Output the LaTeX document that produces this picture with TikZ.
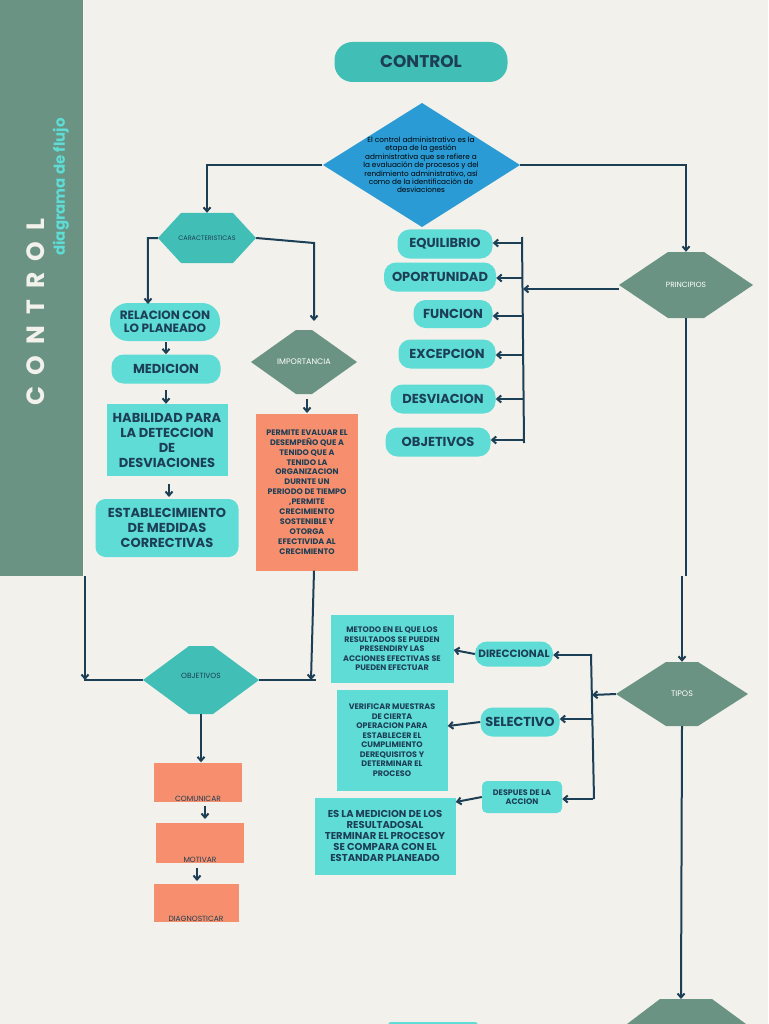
\documentclass[tikz,border=0pt]{standalone}
\usepackage{fontspec}
\setmainfont{Poppins}
\newfontfamily\pop{Poppins}
\newfontfamily\popsp[LetterSpace=45]{Poppins}
\usetikzlibrary{arrows.meta,calc}
\definecolor{bg}{HTML}{F2F1EC}
\definecolor{sage}{HTML}{6A9383}
\definecolor{teal}{HTML}{41BFB6}
\definecolor{cyan}{HTML}{5EDCD5}
\definecolor{blu}{HTML}{2B9BD6}
\definecolor{salmon}{HTML}{F78F6E}
\definecolor{navy}{HTML}{1D3F55}
\newcommand\hexa[9]{%
  \fill[#7] ({#2-#4},#3) -- ({#2-#6},{#3-#5}) -- ({#2+#6},{#3-#5}) -- ({#2+#4},#3) -- ({#2+#6},{#3+#5}) -- ({#2-#6},{#3+#5}) -- cycle;
  \node[inner sep=0pt, minimum width={2*#4}, minimum height={2*#5}, #8] (#1) at (#2,#3) {#9};}
\begin{document}
\begin{tikzpicture}[x=1pt,y=-1pt,
  arr/.style={draw=navy, line width=2pt, -{Straight Barb[length=4pt,width=7pt]}},
  ln/.style={draw=navy, line width=2pt},
  pill/.style={fill=cyan, rounded corners=12pt, inner sep=0pt, text=navy, font=\pop\bfseries\fontsize{13}{14}\selectfont, align=center},
  box/.style={fill=cyan, inner sep=2pt, text=navy, font=\pop\bfseries\fontsize{8}{9.5}\selectfont, align=center},
  sbox/.style={fill=salmon, inner sep=0pt, text=navy, align=center},
  small/.style={text=navy, font=\pop\fontsize{6.5}{7}\selectfont},
  wsmall/.style={text=white, font=\pop\fontsize{8}{9}\selectfont}]
\useasboundingbox (0,0) rectangle (768,1024);
\fill[bg] (0,0) rectangle (768,1024);
% sidebar
\fill[sage] (0,0) rectangle (83,576);
\node[rotate=90, text=bg, font=\popsp\bfseries\fontsize{25}{25}\selectfont] (ttl) at (36,312) {CONTROL};
\node[rotate=90, text=cyan, font=\pop\bfseries\fontsize{15}{15}\selectfont] (sub) at (61,187) {diagrama de flujo};
% top
\node[pill, fill=teal, minimum width=173pt, minimum height=40pt, rounded corners=18pt, font=\pop\bfseries\fontsize{17}{18}\selectfont] (ctrl) at (421,62) {CONTROL};
\fill[blu] (323,165) -- (422,103) -- (520,165) -- (422,227) -- cycle;
\node[minimum width=197pt, minimum height=124pt, inner sep=0pt, align=center, font=\pop\fontsize{7.3}{8.4}\selectfont] (main) at (421,165)
 {El control administrativo es la\\etapa de la gestión\\administrativa que se refiere a\\la evaluación de procesos y del\\rendimiento administrativo, así\\como de la identificación de\\desviaciones};
% left branch
\hexa{car}{207}{238}{49}{25}{26}{teal}{small}{CARACTERISTICAS}
\draw[arr] (main.west) -| (car.north);
\node[pill, minimum width=110pt, minimum height=38pt, rounded corners=18pt, font=\pop\bfseries\fontsize{12}{12.5}\selectfont] (rel) at (165,322) {RELACION CON\\LO PLANEADO};
\draw[arr] (car.west) -- ++(-10,0) -- (148,304);
\hexa{imp}{304}{362}{53}{32}{8}{sage}{wsmall}{IMPORTANCIA}
\draw[arr] (car.east) -- (314,243) -- (314,321);
\node[pill, minimum width=109pt, minimum height=29pt] (med) at (166,369) {MEDICION};
\draw[arr] (rel.south -| 166,0) ++(0,1) -- (med.north -| 166,0);
\node[box, minimum width=121pt, minimum height=72pt, font=\pop\bfseries\fontsize{13}{15}\selectfont] (hab) at (167,440) {HABILIDAD PARA\\LA DETECCION\\DE\\DESVIACIONES};
\draw[arr] (166,390) -- (hab.north -| 166,0);
\node[pill, minimum width=143pt, minimum height=58pt, rounded corners=10pt, font=\pop\bfseries\fontsize{13}{15}\selectfont] (est) at (167,528) {ESTABLECIMIENTO\\DE MEDIDAS\\CORRECTIVAS};
\draw[arr] (169,484) -- (169,497);
\draw[arr] (imp.south -| 307,0) ++(0,5) -- (307,413);
\node[sbox, minimum width=102pt, minimum height=157pt, font=\pop\bfseries\fontsize{8}{9.9}\selectfont] (per) at (307,492) {PERMITE EVALUAR EL\\DESEMPEÑO QUE A\\TENIDO QUE A\\TENIDO LA\\ORGANIZACION\\DURNTE UN\\PERIODO DE TIEMPO\\,PERMITE\\CRECIMIENTO\\SOSTENIBLE Y\\OTORGA\\EFECTIVIDA AL\\CRECIMIENTO};
% objetivos
\hexa{obj}{201}{680}{58}{34}{12}{teal}{small,font=\pop\fontsize{7.5}{8}\selectfont}{\raisebox{9pt}{OBJETIVOS}}
\coordinate (sb) at (85,576);
\draw[arr] (sb) -- (85,680);
\draw[ln] (84,680) -- (obj.west);
\draw[arr] (per.south -| 314,0) -- (311,680);
\draw[ln] (obj.east) -- (316,680);
\node[sbox, minimum width=88pt, minimum height=39pt] (com) at (198,782) {};
\node[small, font=\pop\fontsize{7.5}{8}\selectfont, anchor=south] (comt) at ($(com.south)+(0,3)$) {COMUNICAR};
\draw[arr] (obj.south) -- (com.north -| obj.south);
\node[sbox, minimum width=88pt, minimum height=40pt] (mot) at (200,843) {};
\node[small, font=\pop\fontsize{7.5}{8}\selectfont, anchor=south] (mott) at ($(mot.south)+(0,3)$) {MOTIVAR};
\draw[arr] (205,806) -- (205,819);
\node[sbox, minimum width=85pt, minimum height=38pt] (dia) at (196,903) {};
\node[small, font=\pop\fontsize{7.5}{8}\selectfont, anchor=south] (diat) at ($(dia.south)+(0,3)$) {DIAGNOSTICAR};
\draw[arr] (197,868) -- (197,881);
% principios
\hexa{pri}{686}{285}{67}{33}{18}{sage}{wsmall,font=\pop\fontsize{7.5}{8}\selectfont}{PRINCIPIOS}
\draw[arr] (main.east) -| (pri.north);
\node[pill, minimum width=95pt, minimum height=29pt] (p1) at (445,244) {EQUILIBRIO};
\node[pill, minimum width=112pt, minimum height=29pt] (p2) at (440,277) {OPORTUNIDAD};
\node[pill, minimum width=79pt, minimum height=28pt] (p3) at (453,314) {FUNCION};
\node[pill, minimum width=97pt, minimum height=29pt] (p4) at (447,354) {EXCEPCION};
\node[pill, minimum width=105pt, minimum height=29pt] (p5) at (443,399) {DESVIACION};
\node[pill, minimum width=105pt, minimum height=29pt] (p6) at (438,442) {OBJETIVOS};
\coordinate (bt) at (522,237);
\coordinate (bb) at (524,443);
\draw[ln] (bt) -- (bb);
\draw[arr] (pri.west |- 0,289) -- (523,289);
\foreach \p/\y in {p1/243,p2/278,p3/316,p4/355,p5/399,p6/440}
  \draw[arr] (523,\y) -- (\p.east |- 0,\y);
% tipos
\hexa{tip}{682}{694}{66}{32}{16}{sage}{wsmall,font=\pop\fontsize{8}{9}\selectfont}{TIPOS}
\draw[ln] (pri.south) -- (686,576);
\draw[arr] (682,576) -- (tip.north);
\coordinate (tt) at (591,654);
\coordinate (tb) at (594,799);
\draw[ln] (tt) -- (tb);
\draw[arr] (tip.west) -- (592,695);
\node[pill, minimum width=78pt, minimum height=25pt, font=\pop\bfseries\fontsize{10.5}{11}\selectfont] (t1) at (514,654) {DIRECCIONAL};
\node[pill, minimum width=79pt, minimum height=29pt] (t2) at (520,722) {SELECTIVO};
\node[pill, minimum width=80pt, minimum height=32pt, rounded corners=5pt, font=\pop\bfseries\fontsize{8}{9}\selectfont] (t3) at (522,797) {DESPUES DE LA\\ACCION};
\draw[arr] (591,655) -- (t1.east |- 0,655);
\draw[arr] (592,719) -- (t2.east |- 0,719);
\draw[arr] (593,799) -- (t3.east |- 0,799);
\node[box, minimum width=123pt, minimum height=68pt] (d1) at (392,649) {METODO EN EL QUE LOS\\RESULTADOS SE PUEDEN\\PRESENDIRY LAS\\ACCIONES EFECTIVAS SE\\PUEDEN EFECTUAR};
\node[box, minimum width=111pt, minimum height=101pt] (d2) at (392,740) {VERIFICAR MUESTRAS\\DE CIERTA\\OPERACION PARA\\ESTABLECER EL\\CUMPLIMIENTO\\DEREQUISITOS Y\\DETERMINAR EL\\PROCESO};
\node[box, minimum width=141pt, minimum height=77pt, font=\pop\bfseries\fontsize{10}{11}\selectfont] (d3) at (385,836) {ES LA MEDICION DE LOS\\RESULTADOSAL\\TERMINAR EL PROCESOY\\SE COMPARA CON EL\\ESTANDAR PLANEADO};
\draw[arr] (t1.west) -- (d1.east |- 0,650);
\draw[arr] (t2.west) -- (d2.east |- 0,726);
\draw[arr] (t3.west) -- (d3.east |- 0,802);
% bottom
\fill[sage] (627,1024) -- (660,999) -- (712,999) -- (746,1024) -- cycle;
\coordinate (bh) at (681,999);
\draw[arr] (tip.south) -- (bh);
\fill[cyan, rounded corners=3pt] (388,1022) rectangle (478,1030);
\end{tikzpicture}
\end{document}
